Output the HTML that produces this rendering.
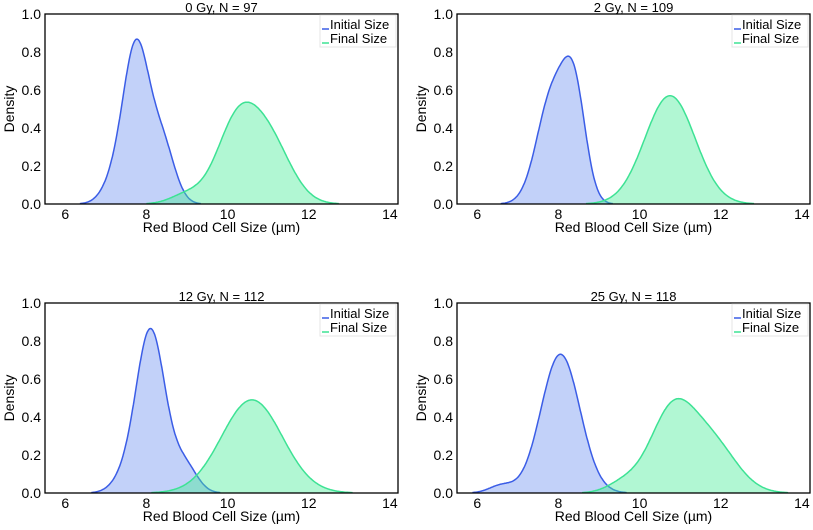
<!DOCTYPE html><html><head><style>body{margin:0;background:#fff;font-family:"Liberation Sans",sans-serif}</style></head><body>
<svg id="s" width="813" height="525" xmlns="http://www.w3.org/2000/svg" font-family="Liberation Sans, sans-serif"></svg>
<script>
const panels=[
 {x:45,y:14,t:"0 Gy, N = 97",a:[[0.82,7.75,0.32],[0.3,8.4,0.3],[0.1,7.2,0.3]],b:[[0.38,10.2,0.5],[0.33,11.0,0.55],[0.05,9,0.4]]},
 {x:457,y:14,t:"2 Gy, N = 109",a:[[0.57,7.85,0.38],[0.52,8.4,0.28]],b:[[0.57,10.75,0.62]]},
 {x:45,y:303,t:"12 Gy, N = 112",a:[[0.86,8.1,0.36],[0.14,8.95,0.3],[0.05,7.4,0.3]],b:[[0.49,10.6,0.75]]},
 {x:457,y:303,t:"25 Gy, N = 118",a:[[0.73,8.05,0.48],[0.04,6.6,0.3]],b:[[0.42,10.8,0.55],[0.25,11.8,0.6],[0.05,9.6,0.4]]}];
let h='';const W=353,H=190,x0=5.5,x1=14.2;
function f(c,x){let s=0;for(const[k,m,d]of c)s+=k*Math.exp(-(x-m)*(x-m)/(2*d*d));return s}
for(const p of panels){
 const X=v=>p.x+(v-x0)/(x1-x0)*W,Y=v=>p.y+H-v*H;
 for(const[c,fill,line]of[[p.a,"rgba(110,145,240,0.42)","#3b5de6"],[p.b,"rgba(70,235,150,0.42)","#3de294"]]){
  let pts=[];for(let v=x0;v<=x1;v+=0.02){const y=f(c,v);if(y>0.002)pts.push(X(v).toFixed(1)+","+Y(y).toFixed(1))}
  const first=pts[0].split(",")[0],last=pts[pts.length-1].split(",")[0];
  h+=`<path d="M${first},${p.y+H}L${pts.join("L")}L${last},${p.y+H}Z" fill="${fill}"/>`;
  h+=`<path d="M${pts.join("L")}" fill="none" stroke="${line}" stroke-width="1.5"/>`;
 }
 h+=`<rect x="${p.x}" y="${p.y}" width="${W}" height="${H}" fill="none" stroke="#000" stroke-width="1.3"/>`;
 for(let v=0;v<=1.001;v+=0.2)h+=`<text x="${p.x-4}" y="${Y(v)+5}" font-size="14" text-anchor="end">${v.toFixed(1)}</text>`;
 for(let v=6;v<=14;v+=2)h+=`<text x="${X(v)}" y="${p.y+H+15}" font-size="14" text-anchor="middle">${v}</text>`;
 h+=`<text x="${p.x+W/2}" y="${p.y-2}" font-size="13" text-anchor="middle">${p.t}</text>`;
 h+=`<text x="${p.x+W/2}" y="${p.y+H+28}" font-size="14" text-anchor="middle">Red Blood Cell Size (µm)</text>`;
 h+=`<text transform="translate(${p.x-31},${p.y+H/2}) rotate(-90)" font-size="14" text-anchor="middle">Density</text>`;
 const lx=p.x+W-78;
 h+=`<rect x="${lx}" y="${p.y+1}" width="76" height="32" fill="#fff" stroke="#e4e4e4"/>`;
 h+=`<line x1="${lx+2}" y1="${p.y+15}" x2="${lx+9}" y2="${p.y+15}" stroke="#3b5de6" stroke-width="1.5"/><text x="${lx+10}" y="${p.y+15}" font-size="13">Initial Size</text>`;
 h+=`<line x1="${lx+2}" y1="${p.y+29}" x2="${lx+9}" y2="${p.y+29}" stroke="#3de294" stroke-width="1.5"/><text x="${lx+10}" y="${p.y+29}" font-size="13">Final Size</text>`;
}
document.getElementById("s").innerHTML=h;
</script></body></html>
